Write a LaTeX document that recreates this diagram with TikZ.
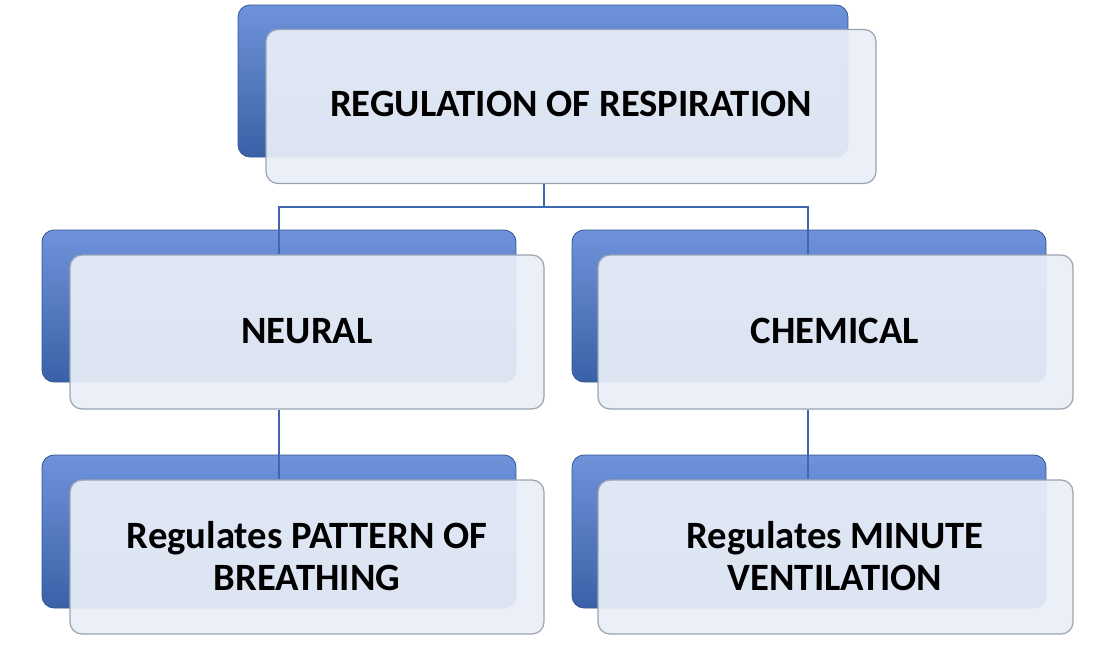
\documentclass[tikz,border=0pt]{standalone}
\usepackage{fontspec}
\setmainfont{Carlito}
\begin{document}
\begin{tikzpicture}[x=0.75pt,y=-0.75pt]
\definecolor{bk}{HTML}{4472C4}
\definecolor{bkt}{HTML}{6F93DA}
\definecolor{fr}{HTML}{E9EEF8}
\definecolor{frd}{HTML}{9AA3B2}
\tikzset{
 back/.style={rounded corners=9pt,top color=bkt,bottom color=bk!85!black,draw=bk!75!black,line width=0.6pt},
 front/.style={rounded corners=9pt,fill=fr,fill opacity=0.93,draw=frd,line width=0.9pt,minimum height=154*0.75pt,inner sep=0},
 lbl/.style={font=\bfseries\fontsize{29}{32}\selectfont,align=center},
 con/.style={draw=bk!90!black,line width=0.9pt}}
\useasboundingbox (0,0) rectangle (1110,650);
\draw[back] (238,5) rectangle (848,157);
\draw[back] (42,230) rectangle (516,382);
\draw[back] (572,230) rectangle (1046,382);
\draw[back] (42,455) rectangle (516,608);
\draw[back] (572,455) rectangle (1046,608);
\coordinate (j) at (544,207);
\coordinate (jl) at (279,207);
\coordinate (jr) at (808,207);
\node[front,minimum width=610*0.75pt] (top) at (571,106.5) {};
\node[front,minimum width=474*0.75pt] (neu) at (307,332) {};
\node[front,minimum width=475*0.75pt] (che) at (835.5,332) {};
\node[front,minimum width=474*0.75pt] (pat) at (307,557) {};
\node[front,minimum width=475*0.75pt] (min) at (835.5,557) {};
\draw[con] (top.south -| j) -- (j) -- (jl) -- (jl |- neu.north);
\draw[con] (j) -- (jr) -- (jr |- che.north);
\draw[con] (neu.south -| jl) -- (jl |- pat.north);
\draw[con] (che.south -| jr) -- (jr |- min.north);
\node[lbl] at (571,104) {REGULATION OF RESPIRATION};
\node[lbl] at (307,331) {NEURAL};
\node[lbl] at (835,331) {CHEMICAL};
\node[lbl] at (307,556) {Regulates PATTERN OF\\BREATHING};
\node[lbl] at (835,556) {Regulates MINUTE\\VENTILATION};
\end{tikzpicture}
\end{document}
